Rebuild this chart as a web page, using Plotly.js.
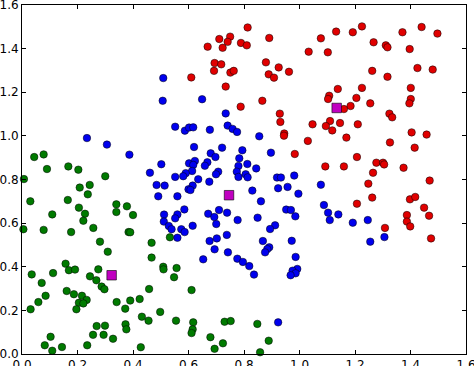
<!DOCTYPE html>
<html>
<head>
<meta charset="utf-8">
<script src="https://cdn.plot.ly/plotly-3.0.1.min.js"></script>
<style>html,body{margin:0;padding:0;background:#fff;}#chart{width:474px;height:366px;}</style>
</head>
<body>
<div id="chart"></div>
<script>
const redX = [0.813,0.711,0.750,0.741,0.669,0.723,0.789,0.810,0.891,1.033,0.694,0.718,0.692,0.751,0.763,0.879,0.925,0.962,0.889,0.908,0.610,0.734,0.866,0.788,0.929,0.931,
1.225,1.132,1.192,1.077,1.371,1.440,1.497,1.102,1.267,1.311,1.317,1.397,1.262,1.317,1.425,1.480,1.138,1.225,1.401,1.107,1.103,1.205,1.401,1.396,1.255,1.184,1.160,1.324,1.334,
1.047,1.110,1.095,1.118,1.146,1.210,1.030,1.169,1.326,1.404,1.458,1.415,1.207,1.093,1.160,1.277,1.301,1.305,1.375,1.265,1.248,1.469,1.262,1.207,1.398,1.417,1.449,1.467,1.387,1.387,1.399,1.308,1.474,
0.945,0.944,0.983];
const redY = [1.497,1.444,1.455,1.431,1.409,1.404,1.426,1.415,1.449,1.386,1.334,1.328,1.298,1.290,1.298,1.337,1.314,1.294,1.282,1.267,1.268,1.226,1.161,1.134,1.102,1.064,
1.502,1.478,1.475,1.447,1.475,1.499,1.469,1.383,1.429,1.415,1.406,1.398,1.298,1.271,1.311,1.304,1.215,1.220,1.220,1.184,1.169,1.174,1.169,1.149,1.149,1.137,1.123,1.102,1.085,
1.053,1.068,1.045,1.025,1.059,1.053,0.977,0.992,0.970,1.016,1.006,0.946,0.903,0.860,0.860,0.877,0.877,0.869,0.854,0.831,0.781,0.795,0.717,0.689,0.709,0.720,0.671,0.634,0.637,0.607,0.585,0.578,0.530,
1.011,1.001,0.917];

const blueX = [0.509,0.507,0.649,0.734,0.234,0.306,0.387,
0.552,0.587,0.602,0.617,0.677,0.741,0.759,0.775,0.855,0.620,0.721,0.794,0.897,0.680,0.697,0.783,0.502,0.602,0.623,0.617,0.668,0.659,0.812,0.780,0.844,0.613,0.590,0.581,0.552,0.635,0.707,0.699,0.774,0.780,0.806,0.813,0.675,0.919,0.933,0.981,0.461,0.485,0.514,0.615,0.600,0.607,0.923,0.957,0.830,0.996,0.491,0.560,0.861,0.585,0.710,0.671,0.693,0.739,0.952,0.969,0.985,0.512,0.560,0.552,0.511,0.849,0.777,0.700,0.615,0.529,0.539,0.574,0.586,0.912,0.894,0.738,0.702,0.560,
0.676,0.694,0.742,0.653,0.776,0.796,0.819,0.836,0.868,0.891,0.884,0.876,0.972,0.986,0.992,0.975,0.986,0.968,0.923,
1.077,1.088,1.103,1.140,1.109,1.192,1.246,1.306,1.255];
const blueY = [1.265,1.161,1.168,1.103,0.990,0.960,0.914,
1.042,1.024,1.038,1.039,1.028,1.047,1.032,1.018,0.998,0.949,0.946,0.934,0.923,0.920,0.903,0.897,0.870,0.874,0.885,0.867,0.879,0.863,0.871,0.862,0.851,0.839,0.829,0.815,0.812,0.801,0.836,0.824,0.836,0.812,0.824,0.810,0.790,0.809,0.809,0.818,0.831,0.775,0.772,0.772,0.755,0.752,0.760,0.766,0.749,0.735,0.723,0.723,0.700,0.663,0.660,0.643,0.628,0.648,0.662,0.660,0.631,0.639,0.640,0.622,0.607,0.625,0.614,0.596,0.588,0.587,0.572,0.572,0.559,0.590,0.573,0.546,0.530,0.533,
0.518,0.480,0.466,0.434,0.437,0.422,0.403,0.364,0.518,0.489,0.481,0.466,0.519,0.445,0.390,0.382,0.370,0.361,0.145,
0.776,0.683,0.648,0.640,0.614,0.602,0.614,0.536,0.515];

const greenX = [0.044,0.078,0.090,0.167,0.203,0.007,0.300,0.208,0.244,0.237,0.030,0.165,0.205,0.227,0.221,0.109,0.340,0.340,0.378,0.400,0.005,0.078,0.177,0.257,0.384,0.390,
0.281,0.309,0.157,0.169,0.191,0.275,0.112,0.035,0.245,0.268,0.287,0.297,0.071,0.161,0.187,0.085,0.216,0.233,0.205,0.221,0.196,0.059,0.031,0.341,0.390,0.424,0.372,0.458,0.432,0.456,0.373,0.376,0.269,0.299,0.256,0.294,0.328,0.103,0.082,0.109,0.144,0.235,0.428,
0.467,0.467,0.533,0.509,0.510,0.557,0.548,0.611,0.498,0.555,0.617,0.615,0.611,0.730,0.752,0.848,0.679,0.724,0.694,0.889,0.858];
const greenY = [0.903,0.915,0.848,0.860,0.845,0.802,0.815,0.763,0.775,0.732,0.700,0.706,0.671,0.643,0.611,0.640,0.686,0.651,0.677,0.637,0.572,0.569,0.559,0.578,0.559,0.558,
0.515,0.469,0.414,0.384,0.387,0.388,0.371,0.365,0.356,0.338,0.309,0.297,0.326,0.289,0.274,0.267,0.267,0.248,0.235,0.232,0.205,0.238,0.205,0.238,0.245,0.252,0.208,0.298,0.171,0.153,0.136,0.113,0.128,0.130,0.088,0.088,0.070,0.079,0.040,0.015,0.032,0.040,0.031,
0.510,0.442,0.535,0.400,0.388,0.394,0.352,0.293,0.193,0.153,0.145,0.113,0.096,0.148,0.151,0.138,0.077,0.049,0.024,0.061,0.008];

const centerX = [0.323,0.746,1.134];
const centerY = [0.361,0.728,1.128];

const tickVals = [0,0.2,0.4,0.6,0.8,1.0,1.2,1.4,1.6];
const tickText = ["0.0","0.2","0.4","0.6","0.8","1.0","1.2","1.4","1.6"];

function pts(x, y, color) {
  return {x: x, y: y, type: 'scatter', mode: 'markers', hoverinfo: 'skip', cliponaxis: false,
    marker: {symbol: 'circle', size: 7.5, color: color, line: {color: '#000', width: 0.5}}};
}
const traces = [
  pts(greenX, greenY, '#007a00'),
  pts(blueX, blueY, '#0000ee'),
  pts(redX, redY, '#e00000'),
  {x: centerX, y: centerY, type: 'scatter', mode: 'markers', hoverinfo: 'skip',
   marker: {symbol: 'square', size: 9.5, color: '#c000c0', line: {color: '#000', width: 0.6}}}
];
const axis = {
  range: [0, 1.6], tickvals: tickVals, ticktext: tickText, ticks: 'inside', ticklen: 4,
  tickwidth: 1, tickcolor: '#000', showline: true, linecolor: '#000', linewidth: 1,
  mirror: 'ticks', showgrid: false, zeroline: false, fixedrange: true,
  ticklabeloverflow: 'allow',
  tickfont: {family: 'DejaVu Sans', size: 12, color: '#000'}
};
const layout = {
  width: 474, height: 366, autosize: false,
  margin: {l: 22, r: 8, t: 5, b: 12, pad: 0},
  paper_bgcolor: '#fff', plot_bgcolor: '#fff', showlegend: false,
  xaxis: Object.assign({}, axis, {ticklabelstandoff: 0}),
  yaxis: Object.assign({}, axis, {ticklabelstandoff: 0})
};
Plotly.newPlot('chart', traces, layout, {staticPlot: true, displayModeBar: false});
</script>
</body>
</html>
